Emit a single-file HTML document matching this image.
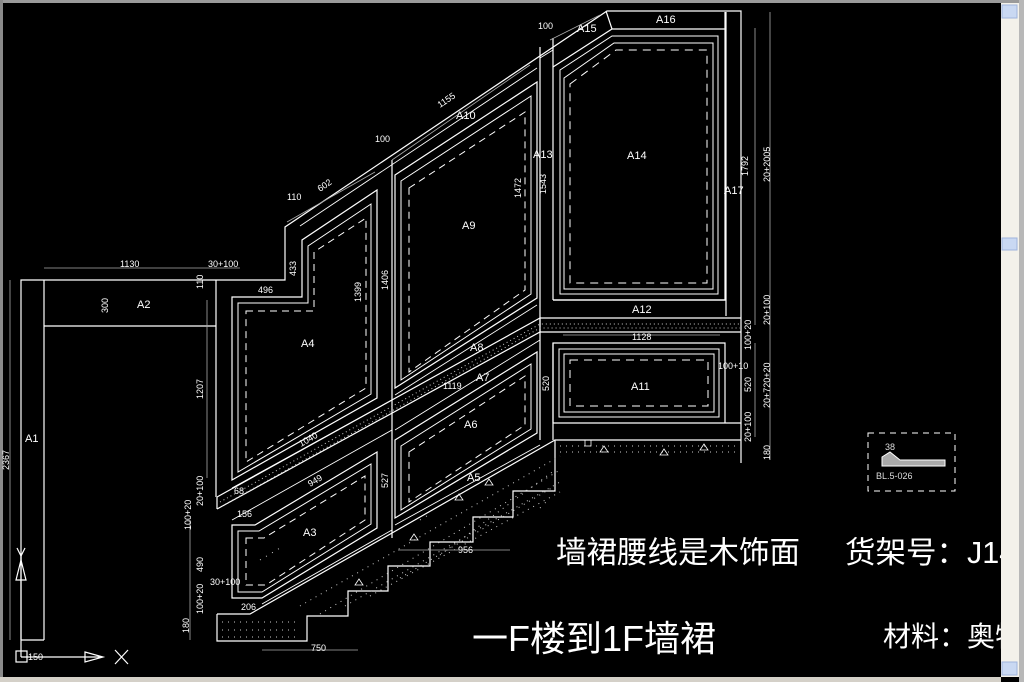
<!DOCTYPE html>
<html><head><meta charset="utf-8"><style>
html,body{margin:0;padding:0;background:#000;width:1024px;height:682px;overflow:hidden}
svg{display:block}
text{font-family:"Liberation Sans",sans-serif;fill:#fff}
.d{fill:#ddd;font-size:9px}
.l{font-size:11px}
.c{font-family:"Liberation Sans","Noto Sans CJK SC",sans-serif;fill:#fff}
</style></head><body>
<svg width="1024" height="682" viewBox="0 0 1024 682" xmlns="http://www.w3.org/2000/svg">
<rect width="1024" height="682" fill="#000"/>
<rect x="0" y="0" width="1024" height="3" fill="#9a9a9a"/>
<rect x="0" y="0" width="3" height="682" fill="#8a8a8a"/>
<rect x="0" y="677" width="1001" height="5" fill="#d4d0c8"/>

<g stroke="#fff" fill="none" stroke-width="1.2">
<path d="M21 640 V280 H285 V227 L607 11 H741 V463"/>
<path d="M44 640 V326 H216 M44 326 V280 M216 280 V497 M21 640 H44"/>
<path d="M217 497 V509 M217 614 V641 H307 V616 H348 V591 H388 V566 H430 V542 H473 V517 H513 V491 H555 V466 V440 H741"/>
<path d="M217 614 H250 L555 440"/>
<path d="M217 497 L540 318 H741 M217 509 L540 332 H741 M540 318 V332"/>
<path d="M392 160 V538 M540 47 V440 M553 38 V300 M553 343 V440 M726 12 V316 M553 300 H726"/>
<path d="M232 297 H302 V240 L377 190 V398 L232 480 Z"/>
<path d="M238 303 H308 V246 L371 204 V394 L238 472 Z" stroke-width="1"/>
<path d="M246 311 H314 V252 L366 218 V388 L246 462 Z" stroke-dasharray="7 5" stroke-width="1"/>
<path d="M395 175 L537 82 V298 L395 388 Z"/>
<path d="M401 181 L531 96 V294 L401 380 Z" stroke-width="1"/>
<path d="M409 188 L525 112 V290 L409 372 Z" stroke-dasharray="7 5" stroke-width="1"/>
<path d="M395 440 L537 352 V433 L395 518 Z"/>
<path d="M401 446 L531 364 V429 L401 510 Z" stroke-width="1"/>
<path d="M409 452 L525 376 V425 L409 502 Z" stroke-dasharray="7 5" stroke-width="1"/>
<path d="M232 525 H255 L377 452 V528 L262 598 H232 Z"/>
<path d="M238 531 H259 L371 464 V524 L262 592 H238 Z" stroke-width="1"/>
<path d="M246 538 H264 L365 476 V520 L266 585 H246 Z" stroke-dasharray="7 5" stroke-width="1"/>
<path d="M553 67 L612 29 H725 V300 H553"/>
<path d="M560 70 L612 36 H718 V294 H560 Z" stroke-width="1"/>
<path d="M564 78 L614 43 H713 V289 H564 Z" stroke-width="1"/>
<path d="M570 84 L616 50 H707 V283 H570 Z" stroke-width="1" stroke-dasharray="8 6"/>
<path d="M606 11 L612 29 M725 12 V29"/>
<path d="M553 343 H725 V423 H553 Z M553 423 H741"/>
<path d="M559 349 H719 V417 H559 Z" stroke-width="1"/>
<path d="M564 354 H714 V412 H564 Z" stroke-width="1"/>
<path d="M570 360 H708 V406 H570 Z" stroke-width="1" stroke-dasharray="8 6"/>
<path d="M232 488 L392 400 M232 520 L392 430 M395 395 L537 305 M395 430 L540 340 M262 604 L392 530 M395 525 L540 445" stroke-width="0.9"/>
<path d="M300 226 L537 68 M540 58 L553 50" stroke-width="0.9"/>
</g>
<g stroke="#ccc" stroke-width="1" fill="none">
<path d="M220 502 L540 324 H740 M222 506 L540 328 H740" stroke-dasharray="1 3"/>
<path d="M222 622 H300 M222 630 H300 M222 637 H300 M300 606 L560 456 M320 614 L560 470 M345 606 L560 482 M370 596 L560 492 M400 578 L555 486 M440 555 L555 470 M560 446 H740 M560 452 H740" stroke-dasharray="1 5"/>
<path d="M260 560 L280 548 M420 520 L430 514 M540 508 L548 500" stroke-dasharray="1 6"/>
</g>
<g fill="none" stroke="#fff" stroke-width="0.8">
<path d="M455 500 l4 -6 l4 6 z M485 485 l4 -6 l4 6 z M355 585 l4 -6 l4 6 z M600 452 l4 -6 l4 6 z M660 455 l4 -6 l4 6 z M700 450 l4 -6 l4 6 z M410 540 l4 -6 l4 6 z"/>
<rect x="585" y="440" width="6" height="6"/>
</g>
<g stroke="#aaa" stroke-width="0.8" fill="none">
<path d="M10 280 V640 M44 268 H190 M190 268 H240 M207 300 V478 M190 520 V612 M190 612 V640 M262 650 H358 M398 550 H510 M770 12 V437 M755 28 V300 M755 300 V325 M755 343 V423 M755 423 V437 M770 437 V460 M563 335 H720 M287 222 L375 172 M392 160 L530 65 M550 40 L600 15"/>
</g>
<g stroke="#fff" fill="none" stroke-width="1.2">
<path d="M21 657 V555 M16 580 L21 560 L26 580 Z M21 657 H103 M85 652 L103 657 L85 662 Z"/>
<rect x="16" y="651" width="11" height="11"/>
<path d="M17 548 L21 556 L25 548 M21 556 V565 M115 650 L128 664 M128 650 L115 664"/>
</g>
<rect x="868" y="433" width="87" height="58" fill="none" stroke="#fff" stroke-dasharray="6 5"/>
<path d="M882 457 L890 452 L900 460 H945 V466 H882 Z" fill="#aaa" stroke="#fff"/>
<text x="885" y="450" class="d" font-size="8">38</text>
<text x="876" y="479" class="d" font-size="6">BL.5-026</text>

<g class="l">
<text x="25" y="442">A1</text><text x="137" y="308">A2</text>
<text x="301" y="347">A4</text><text x="462" y="229">A9</text>
<text x="456" y="119">A10</text><text x="533" y="158">A13</text>
<text x="627" y="159">A14</text><text x="656" y="23">A16</text>
<text x="577" y="32">A15</text><text x="724" y="194">A17</text>
<text x="632" y="313">A12</text><text x="631" y="390">A11</text>
<text x="470" y="351">A8</text><text x="476" y="381">A7</text>
<text x="464" y="428">A6</text><text x="467" y="481">A5</text>
<text x="303" y="536">A3</text>
</g>
<g class="d">
<text x="120" y="267">1130</text><text x="208" y="267">30+100</text>
<text x="258" y="293">496</text><text x="538" y="29">100</text><text x="375" y="142">100</text>
<text x="287" y="200">110</text><text x="632" y="340">1128</text>
<text x="718" y="369">100+10</text><text x="458" y="553">956</text>
<text x="311" y="651">750</text><text x="234" y="494">68</text>
<text x="237" y="517">156</text><text x="241" y="610">206</text>
<text x="210" y="585">30+100</text><text x="28" y="660">150</text>
<text x="443" y="389">1119</text>
<text transform="translate(320,192) rotate(-34)">602</text>
<text transform="translate(440,108) rotate(-34)">1155</text>
<text transform="translate(301,447) rotate(-30)">1040</text>
<text transform="translate(310,487) rotate(-30)">949</text>
<text transform="translate(9,470) rotate(-90)">2367</text>
<text transform="translate(203,399) rotate(-90)">1207</text>
<text transform="translate(203,289) rotate(-90)">110</text>
<text transform="translate(108,313) rotate(-90)">300</text>
<text transform="translate(296,276) rotate(-90)">433</text>
<text transform="translate(361,302) rotate(-90)">1399</text>
<text transform="translate(388,290) rotate(-90)">1406</text>
<text transform="translate(521,198) rotate(-90)">1472</text>
<text transform="translate(546,194) rotate(-90)">1543</text>
<text transform="translate(748,176) rotate(-90)">1792</text>
<text transform="translate(770,182) rotate(-90)">20+2005</text>
<text transform="translate(770,325) rotate(-90)">20+100</text>
<text transform="translate(751,350) rotate(-90)">100+20</text>
<text transform="translate(770,408) rotate(-90)">20+720+20</text>
<text transform="translate(751,392) rotate(-90)">520</text>
<text transform="translate(549,391) rotate(-90)">520</text>
<text transform="translate(751,442) rotate(-90)">20+100</text>
<text transform="translate(770,460) rotate(-90)">180</text>
<text transform="translate(388,488) rotate(-90)">527</text>
<text transform="translate(203,506) rotate(-90)">20+100</text>
<text transform="translate(191,530) rotate(-90)">100+20</text>
<text transform="translate(203,572) rotate(-90)">490</text>
<text transform="translate(203,614) rotate(-90)">100+20</text>
<text transform="translate(189,633) rotate(-90)">180</text>
</g>

<text x="556" y="563" class="c" font-size="30.5">墙裙腰线是木饰面</text>
<text x="845" y="563" class="c" font-size="30.5">货架号：J14</text>
<text x="472" y="651" class="c" font-size="36">一F楼到1F墙裙</text>
<text x="883" y="646" class="c" font-size="28">材料：奥特</text>
<rect x="1001" y="3" width="18" height="674" fill="#f3f1ea"/>
<rect x="1019" y="0" width="5" height="682" fill="#b8b8b8"/>
<rect x="1002" y="5" width="15" height="13" fill="#c9d8f2" stroke="#9fb4dc"/>
<rect x="1002" y="238" width="15" height="12" fill="#c9d8f2" stroke="#9fb4dc"/>
<rect x="1002" y="662" width="15" height="13" fill="#c9d8f2" stroke="#9fb4dc"/>
</svg>
</body></html>
